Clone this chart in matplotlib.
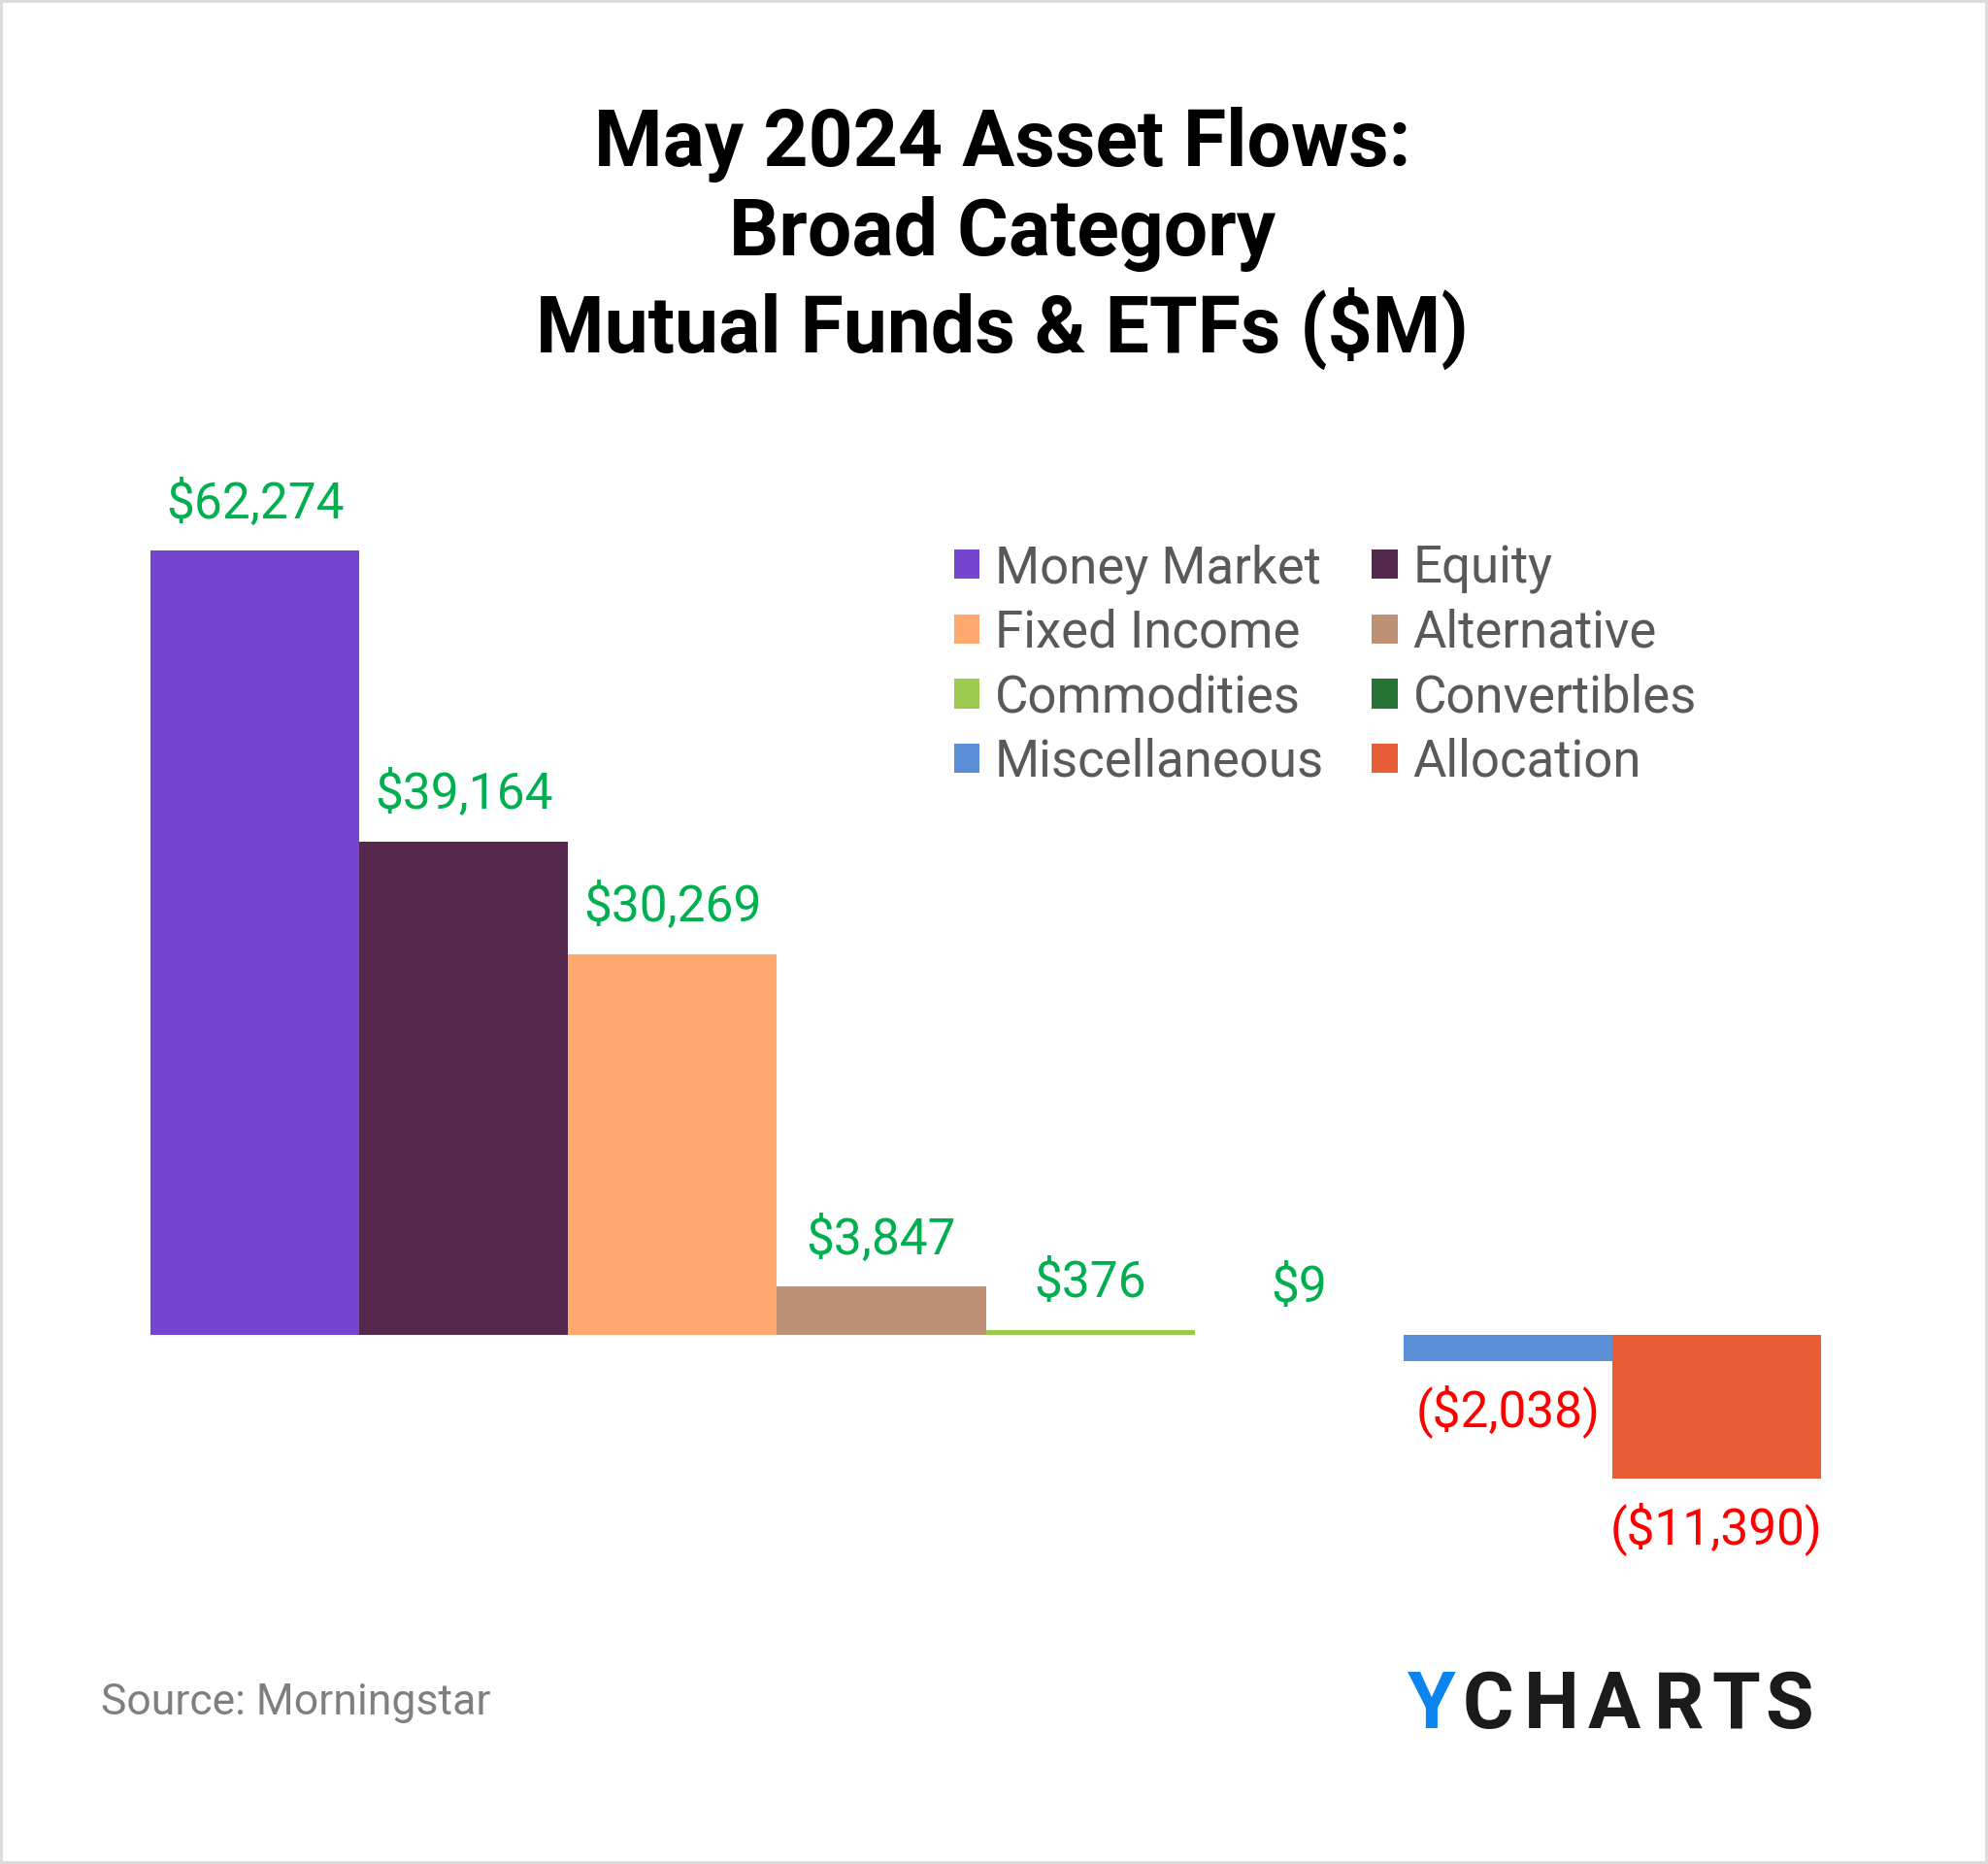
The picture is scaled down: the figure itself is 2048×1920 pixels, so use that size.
import matplotlib
matplotlib.use("Agg")
import matplotlib.pyplot as plt

plt.rcParams['font.family'] = ['Roboto', 'DejaVu Sans']

# Data (in $M)
categories = ['Money Market', 'Equity', 'Fixed Income', 'Alternative',
              'Commodities', 'Convertibles', 'Miscellaneous', 'Allocation']
flows = [62274, 39164, 30269, 3847, 376, 9, -2038, -11390]
colors = ['#7645d0', '#55284d', '#ffa96f', '#be9176',
          '#9bca4f', '#267336', '#5a8fd8', '#e85c36']

fig = plt.figure(figsize=(20.48, 19.2), dpi=100)
fig.patch.set_facecolor('white')
fig.patch.set_edgecolor('#dcdcdc')
fig.patch.set_linewidth(4)

ax = fig.add_axes([0.0757, 0.1823, 0.8403, 0.5745])
x = list(range(len(categories)))
bars = ax.bar(x, flows, width=1.0, color=colors, label=categories)

ax.set_xlim(-0.5, len(categories) - 0.5)
ax.set_ylim(-15000, 70000)
ax.axis('off')

# value labels
for xi, v in zip(x, flows):
    if v >= 0:
        txt = '${:,}'.format(v)
        ax.annotate(txt, (xi, v), xytext=(0, 35), textcoords='offset points',
                    ha='center', va='center', fontsize=37, color='#00b050')
    else:
        txt = '(${:,})'.format(abs(v))
        ax.annotate(txt, (xi, v), xytext=(0, -37), textcoords='offset points',
                    ha='center', va='center', fontsize=37, color='#ff0000')

# legend, filled row by row
order = [0, 2, 4, 6, 1, 3, 5, 7]
handles = [bars[i] for i in order]
labels = [categories[i] for i in order]
fig.legend(handles, labels, ncol=2, loc='upper left',
           bbox_to_anchor=(0.467, 0.722), frameon=False, fontsize=38,
           handlelength=0.5, handleheight=0.5, handletextpad=0.3,
           columnspacing=0.93, labelspacing=0.29, borderpad=0,
           labelcolor='#595959')

# title
fig.text(0.504, 0.872, 'May 2024 Asset Flows:\nBroad Category\nMutual Funds & ETFs ($M)',
         ha='center', va='center', fontsize=58, fontweight='bold',
         color='black', linespacing=1.23)

# source
fig.text(0.051, 1 - 1754 / 1920, 'Source: Morningstar', ha='left', va='center',
         fontsize=32, color='#7f7f7f')

# logo
logo_letters = ['Y', 'C', 'H', 'A', 'R', 'T', 'S']
logo_x = [1475, 1533, 1598, 1663, 1730, 1788, 1843]
for ch, lx in zip(logo_letters, logo_x):
    fig.text(lx / 2048, 1 - 1758 / 1920, ch, ha='center', va='center',
             fontsize=58, fontweight='bold',
             color='#0a84ee' if ch == 'Y' else '#1b1b1b')

fig.savefig('out.png', dpi=100, facecolor=fig.get_facecolor(),
            edgecolor=fig.get_edgecolor())
